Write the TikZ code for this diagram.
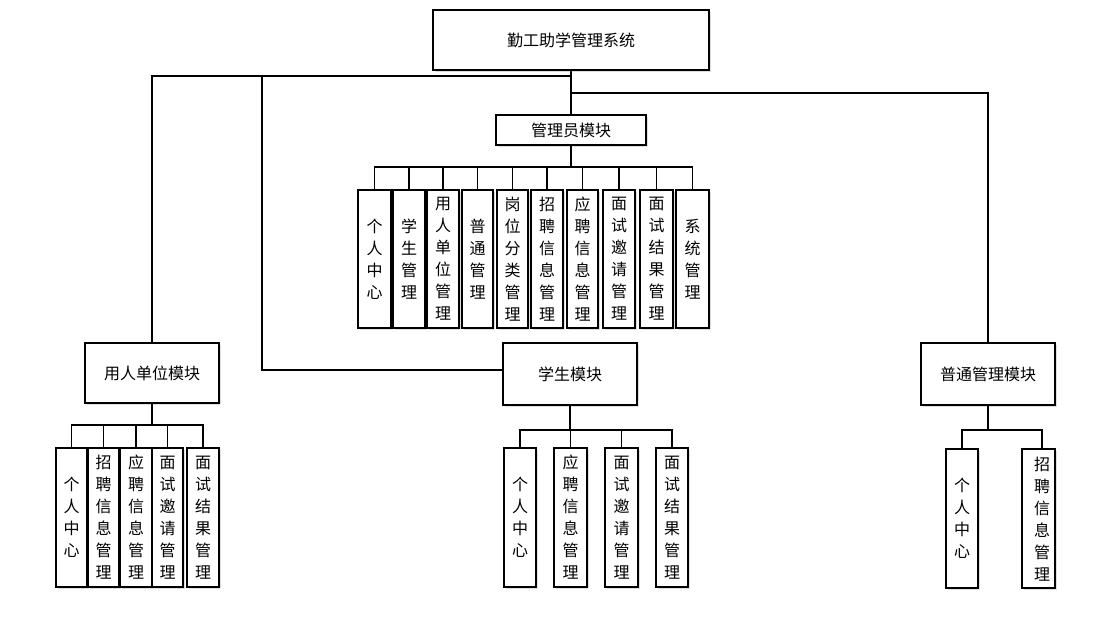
\documentclass[tikz,border=0pt]{standalone}
\usepackage{fontspec}
\setmainfont{Noto Sans CJK SC}
\usetikzlibrary{shadows}
\tikzset{box/.style={draw,line width=1.4pt,fill=white,inner sep=0pt,outer sep=0pt,align=center,
  font=\fontsize{16}{22}\selectfont,
  drop shadow={opacity=0.25,shadow xshift=2pt,shadow yshift=-2pt}},
  conn/.style={line width=1.4pt}}
\newcommand\mybox[6]{\pgfmathsetmacro\bcx{(#2+#4)/2}\pgfmathsetmacro\bcy{(#3+#5)/2}\pgfmathsetmacro\bbw{#4-#2}\pgfmathsetmacro\bbh{#5-#3}\node[box,minimum width=\bbw pt,minimum height=\bbh pt] (#1) at (\bcx,\bcy) {#6};}
\begin{document}
\begin{tikzpicture}[x=1pt,y=-1pt]
\useasboundingbox (0,0) rectangle (1099,626);
\coordinate (t1) at (571,76);
\coordinate (t2) at (571,93);
\coordinate (sL) at (262,76);
\coordinate (abus) at (571,167);
\coordinate (ubus) at (152,425);
\coordinate (sbus) at (570,430);
\coordinate (nbus) at (988,430);
% connectors first
\draw[conn] (433,10) ++(138,60) coordinate (tb) -- (571,115);
\draw[conn] (152,343) |- (t1);
\draw[conn] (503,370) -| (sL);
\draw[conn] (988,343) |- (t2);
\mybox{top}{433}{10}{709}{70}{勤工助学管理系统}
\mybox{adm}{496}{115}{646}{145}{管理员模块}
\mybox{a1}{358}{190}{391}{328}{个\\人\\中\\心}
\mybox{a2}{393}{190}{425}{328}{学\\生\\管\\理}
\mybox{a3}{427}{190}{459}{328}{用\\人\\单\\位\\管\\理}
\mybox{a4}{462}{190}{493}{328}{普\\通\\管\\理}
\mybox{a5}{497}{190}{528}{328}{岗\\位\\分\\类\\管\\理}
\mybox{a6}{531}{190}{563}{328}{招\\聘\\信\\息\\管\\理}
\mybox{a7}{567}{190}{598}{328}{应\\聘\\信\\息\\管\\理}
\mybox{a8}{603}{190}{635}{328}{面\\试\\邀\\请\\管\\理}
\mybox{a9}{640}{190}{673}{328}{面\\试\\结\\果\\管\\理}
\mybox{a10}{676}{190}{709}{328}{系\\统\\管\\理}
\mybox{u}{85}{343}{219}{403}{用人单位模块}
\mybox{s}{503}{343}{637}{405}{学生模块}
\mybox{n}{921}{343}{1055}{405}{普通管理模块}
\mybox{u1}{56}{448}{87}{587}{个\\人\\中\\心}
\mybox{u2}{88}{448}{119}{587}{招\\聘\\信\\息\\管\\理}
\mybox{u3}{120}{448}{152}{587}{应\\聘\\信\\息\\管\\理}
\mybox{u4}{152}{448}{183}{587}{面\\试\\邀\\请\\管\\理}
\mybox{u5}{187}{448}{219}{587}{面\\试\\结\\果\\管\\理}
\mybox{s1}{504}{448}{536}{587}{个\\人\\中\\心}
\mybox{s2}{554}{448}{587}{587}{应\\聘\\信\\息\\管\\理}
\mybox{s3}{605}{448}{638}{587}{面\\试\\邀\\请\\管\\理}
\mybox{s4}{656}{448}{688}{587}{面\\试\\结\\果\\管\\理}
\mybox{n1}{946}{449}{978}{588}{个\\人\\中\\心}
\mybox{n2}{1022}{449}{1055}{588}{}
\node[font=\fontsize{16}{22}\selectfont,align=center,inner sep=0pt] (n2t) at (1042,519) {招\\聘\\信\\息\\管\\理};
% bus connectors
\draw[conn] (adm.south) -- (abus);
\foreach \i in {1,...,10} {\draw[conn] (a\i.north) |- (abus);}
\draw[conn] (u.south) -- (ubus);
\foreach \i in {1,...,5} {\draw[conn] (u\i.north) |- (ubus);}
\draw[conn] (s.south) -- (sbus);
\foreach \i in {1,...,4} {\draw[conn] (s\i.north) |- (sbus);}
\draw[conn] (n.south) -- (nbus);
\draw[conn] (n1.north) |- (nbus);
\draw[conn] (n2t.north) ++(0,-8) coordinate (n2top) |- (nbus);
\end{tikzpicture}
\end{document}
